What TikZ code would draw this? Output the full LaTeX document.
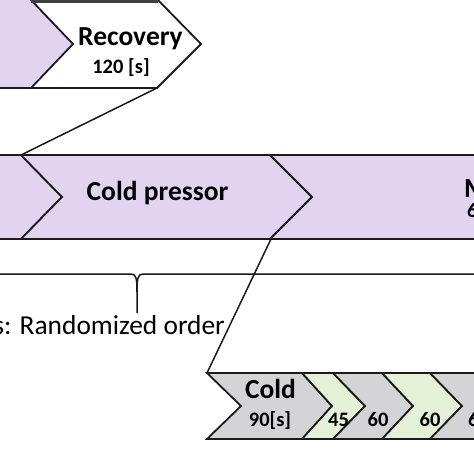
\documentclass[tikz,border=0pt]{standalone}
\usepackage{fontspec}
\setmainfont{Carlito}
\usepackage{xcolor}
\usetikzlibrary{positioning, calc}

\definecolor{phasepurple}{HTML}{E2D3F1}
\definecolor{phasegray}{HTML}{D4D4D6}
\definecolor{phasegreen}{HTML}{E3F1D6}
\definecolor{edgedark}{HTML}{1A1A1A}

\tikzset{
    chev/.style={draw=edgedark, line width=1.8pt, line join=miter},
    big/.style={font=\bfseries\fontsize{27.5}{32}\selectfont, inner sep=0pt},
    small/.style={font=\bfseries\fontsize{20.5}{24}\selectfont, inner sep=0pt},
    plain/.style={font=\fontsize{27.4}{33}\selectfont, inner sep=0pt},
    zoomline/.style={draw=edgedark, line width=1.5pt}
}

\begin{document}
\begin{tikzpicture}[x=1pt, y=-1pt]
    \useasboundingbox (0,0) rectangle (474,474);
    \clip (0,0) rectangle (474,474);
    \fill[white] (0,0) rectangle (474,474);

    % top row
    \fill[phasepurple] (-60,0) -- (31,0) -- (73,44) -- (31,88) -- (-60,88) -- cycle;
    \filldraw[chev, fill=white] (31,0) -- (158,0) -- (201,44) -- (157,88) -- (31,88) -- (73,44) -- cycle;
    \draw[chev] (-60,88) -- (31,88);
    \draw[draw=black!75, line width=3pt] (31,1) -- (158,1);
    \coordinate (recbot) at (157,88);
    \node[big, anchor=base] (rec) at (130.5,45) {Recovery};
    \node[small, anchor=base] (recdur) at (121,73) {120 [s]};

    % middle row
    \filldraw[chev, fill=phasepurple] (-60,155) -- (21,155) -- (62,197) -- (21,239) -- (-60,239) -- cycle;
    \filldraw[chev, fill=phasepurple] (21,155) -- (270,155) -- (312,197) -- (270,239) -- (21,239) -- (62,197) -- cycle;
    \filldraw[chev, fill=phasepurple] (270,155) -- (540,155) -- (540,239) -- (270,239) -- (312,197) -- cycle;
    \coordinate (cpleft) at (21,155);
    \coordinate (cpright) at (271,239);
    \node[big, anchor=base] (cp) at (157.5,200) {Cold pressor};
    \node[big, anchor=base west] (nxt) at (464,197) {M};
    \node[small, anchor=base west] (nxtdur) at (467,217) {6};

    % brace
    \draw[zoomline] (0,274) -- (131,274) .. controls (136,274) and (137,278) .. (137,292) -- (137,313);
    \draw[zoomline] (474,274) -- (143,274) .. controls (138,274) and (137,278) .. (137,292);
    \node[plain, anchor=base east] (order) at (225,334) {s: Randomized order};

    % bottom row
    \filldraw[chev, fill=phasegray] (207,373) -- (302,373) -- (332,406) -- (302,439) -- (207,439) -- (241,406) -- cycle;
    \filldraw[chev, fill=phasegreen] (302,373) -- (333,373) -- (365,406) -- (333,439) -- (302,439) -- (332,406) -- cycle;
    \filldraw[chev, fill=phasegray] (333,373) -- (382,373) -- (413,406) -- (382,439) -- (333,439) -- (365,406) -- cycle;
    \filldraw[chev, fill=phasegreen] (382,373) -- (430,373) -- (462,406) -- (430,439) -- (382,439) -- (413,406) -- cycle;
    \filldraw[chev, fill=phasegray] (430,373) -- (540,373) -- (540,439) -- (430,439) -- (462,406) -- cycle;
    \coordinate (cleft) at (207,373);
    \node[big, anchor=base] (cold) at (270.5,398) {Cold};
    \node[small, anchor=base] (colddur) at (270,426) {90[s]};
    \node[small, anchor=base] (ra) at (338.5,426) {45};
    \node[small, anchor=base] (rb) at (378,426) {60};
    \node[small, anchor=base] (rc) at (430,426) {60};
    \node[small, anchor=base west] (rd) at (468,426) {6};

    % zoom lines
    \draw[zoomline] (recbot) -- (cpleft);
    \draw[zoomline] (cpright) -- (cleft);
\end{tikzpicture}
\end{document}
